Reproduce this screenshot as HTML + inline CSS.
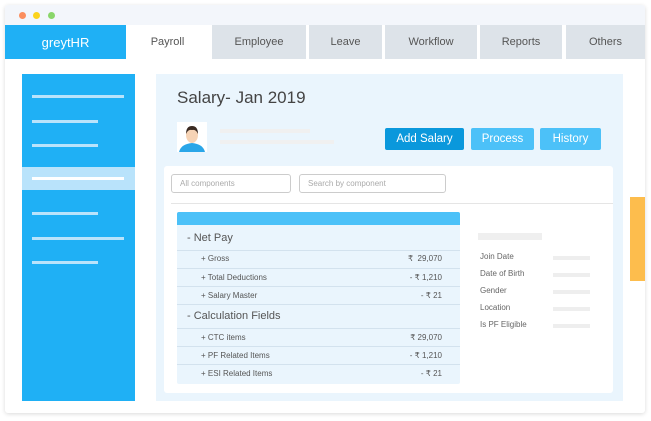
<!DOCTYPE html>
<html><head><style>
*{margin:0;padding:0;box-sizing:border-box}
body{width:651px;height:421px;background:#fff;font-family:"Liberation Sans",sans-serif;position:relative;overflow:hidden}
.a{position:absolute}
.win{left:5px;top:5px;width:640px;height:408px;background:#fff;box-shadow:0 1px 4px rgba(0,0,0,.15);border-radius:3px}
.tab{top:25px;height:34px;background:#dde3e9;color:#555;font-size:11px;line-height:34px;text-align:center}
.sl{height:3px;background:#b9e3fb;left:32px}
.btn{top:128px;height:22px;color:#fff;font-size:11.5px;line-height:22px;text-align:center;border-radius:2px}
.inp{top:174px;height:19px;border:1px solid #ccc;border-radius:3px;font-size:8px;color:#aaa;line-height:17px;padding-left:8px;background:#fff}
.row{left:177px;width:283px;border-bottom:1px solid #d3e2ee;font-size:8px;color:#555}
.row span{position:absolute;right:18px}
.lab{left:480px;font-size:8px;color:#666}
.gb{left:553px;width:37px;height:4px;background:#eee}
</style></head><body>
<div class="a win"></div>
<div class="a" style="left:5px;top:5px;width:640px;height:20px;background:#f3f6fb;border-radius:3px 3px 0 0"></div>
<div class="a" style="left:19px;top:12px;width:7px;height:7px;border-radius:50%;background:#fb8e5e"></div>
<div class="a" style="left:33px;top:12px;width:7px;height:7px;border-radius:50%;background:#fbd31c"></div>
<div class="a" style="left:48px;top:12px;width:7px;height:7px;border-radius:50%;background:#8ad66a"></div>
<div class="a" style="left:5px;top:25px;width:121px;height:34px;background:#1fb0f5;color:#fff;font-size:13px;text-align:center;line-height:36px">greytHR</div>
<div class="a tab" style="left:126px;width:83px;background:#fff">Payroll</div>
<div class="a tab" style="left:212px;width:94px">Employee</div>
<div class="a tab" style="left:309px;width:73px">Leave</div>
<div class="a tab" style="left:385px;width:92px">Workflow</div>
<div class="a tab" style="left:480px;width:82px">Reports</div>
<div class="a tab" style="left:566px;width:79px">Others</div>
<div class="a" style="left:22px;top:74px;width:113px;height:327px;background:#1fb0f5"></div>
<div class="a sl" style="top:95px;width:92px"></div>
<div class="a sl" style="top:120px;width:66px"></div>
<div class="a sl" style="top:144px;width:66px"></div>
<div class="a" style="left:22px;top:167px;width:113px;height:23px;background:#b9e3fb"></div>
<div class="a" style="left:32px;top:177px;width:92px;height:3px;background:#fff"></div>
<div class="a sl" style="top:212px;width:66px"></div>
<div class="a sl" style="top:237px;width:92px"></div>
<div class="a sl" style="top:261px;width:66px"></div>
<div class="a" style="left:156px;top:74px;width:467px;height:327px;background:#eaf5fd"></div>
<div class="a" style="left:177px;top:88px;font-size:17px;color:#444">Salary- Jan 2019</div>
<svg class="a" style="left:177px;top:122px" width="30" height="30"><rect width="30" height="30" fill="#fff"/><path d="M2 30 Q4 22 15 21 Q26 22 28 30Z" fill="#2aa6e8"/><ellipse cx="15" cy="13" rx="6" ry="8" fill="#f6d3b5"/><path d="M9 12 Q9 4 15 4 Q21 4 21 12 Q19 7 15 8 Q11 7 9 12Z" fill="#3a2a22"/></svg>
<div class="a" style="left:220px;top:129px;width:90px;height:4px;background:#f0f0f0"></div>
<div class="a" style="left:220px;top:140px;width:114px;height:4px;background:#f0f0f0"></div>
<div class="a btn" style="left:385px;width:79px;background:#0a98dc">Add Salary</div>
<div class="a btn" style="left:471px;width:63px;background:#4cc1f8">Process</div>
<div class="a btn" style="left:540px;width:61px;background:#4cc1f8">History</div>
<div class="a" style="left:164px;top:166px;width:449px;height:227px;background:#fff;border-radius:3px"></div>
<div class="a inp" style="left:171px;width:120px">All components</div>
<div class="a inp" style="left:299px;width:147px">Search by component</div>
<div class="a" style="left:171px;top:203px;width:442px;height:1px;background:#e5e5e5"></div>
<div class="a" style="left:177px;top:212px;width:283px;height:172px;background:#eaf5fd;border-radius:2px"></div>
<div class="a" style="left:177px;top:212px;width:283px;height:13px;background:#4cc1f8;border-radius:2px 2px 0 0"></div>
<div class="a row" style="top:225px;height:26px;line-height:26px;font-size:11px;padding-left:10px">- Net Pay</div>
<div class="a row" style="top:251px;height:18px;line-height:16px;padding-left:24px">+ Gross<span>₹ &nbsp;29,070</span></div>
<div class="a row" style="top:269px;height:18px;line-height:18px;padding-left:24px">+ Total Deductions<span>- ₹ 1,210</span></div>
<div class="a row" style="top:287px;height:18px;line-height:18px;padding-left:24px">+ Salary Master<span>- ₹ 21</span></div>
<div class="a row" style="top:305px;height:24px;line-height:22px;font-size:11px;padding-left:10px">- Calculation Fields</div>
<div class="a row" style="top:329px;height:18px;line-height:18px;padding-left:24px">+ CTC items<span>₹ 29,070</span></div>
<div class="a row" style="top:347px;height:18px;line-height:18px;padding-left:24px">+ PF Related Items<span>- ₹ 1,210</span></div>
<div class="a row" style="top:365px;height:19px;line-height:18px;padding-left:24px;border:none">+ ESI Related Items<span>- ₹ 21</span></div>
<div class="a" style="left:478px;top:233px;width:64px;height:7px;background:#efefef"></div>
<div class="a lab" style="top:252px">Join Date</div><div class="a gb" style="top:256px"></div>
<div class="a lab" style="top:269px">Date of Birth</div><div class="a gb" style="top:273px"></div>
<div class="a lab" style="top:286px">Gender</div><div class="a gb" style="top:290px"></div>
<div class="a lab" style="top:303px">Location</div><div class="a gb" style="top:307px"></div>
<div class="a lab" style="top:320px">Is PF Eligible</div><div class="a gb" style="top:324px"></div>
<div class="a" style="left:630px;top:197px;width:15px;height:84px;background:#fdbd4d"></div>
</body></html>
